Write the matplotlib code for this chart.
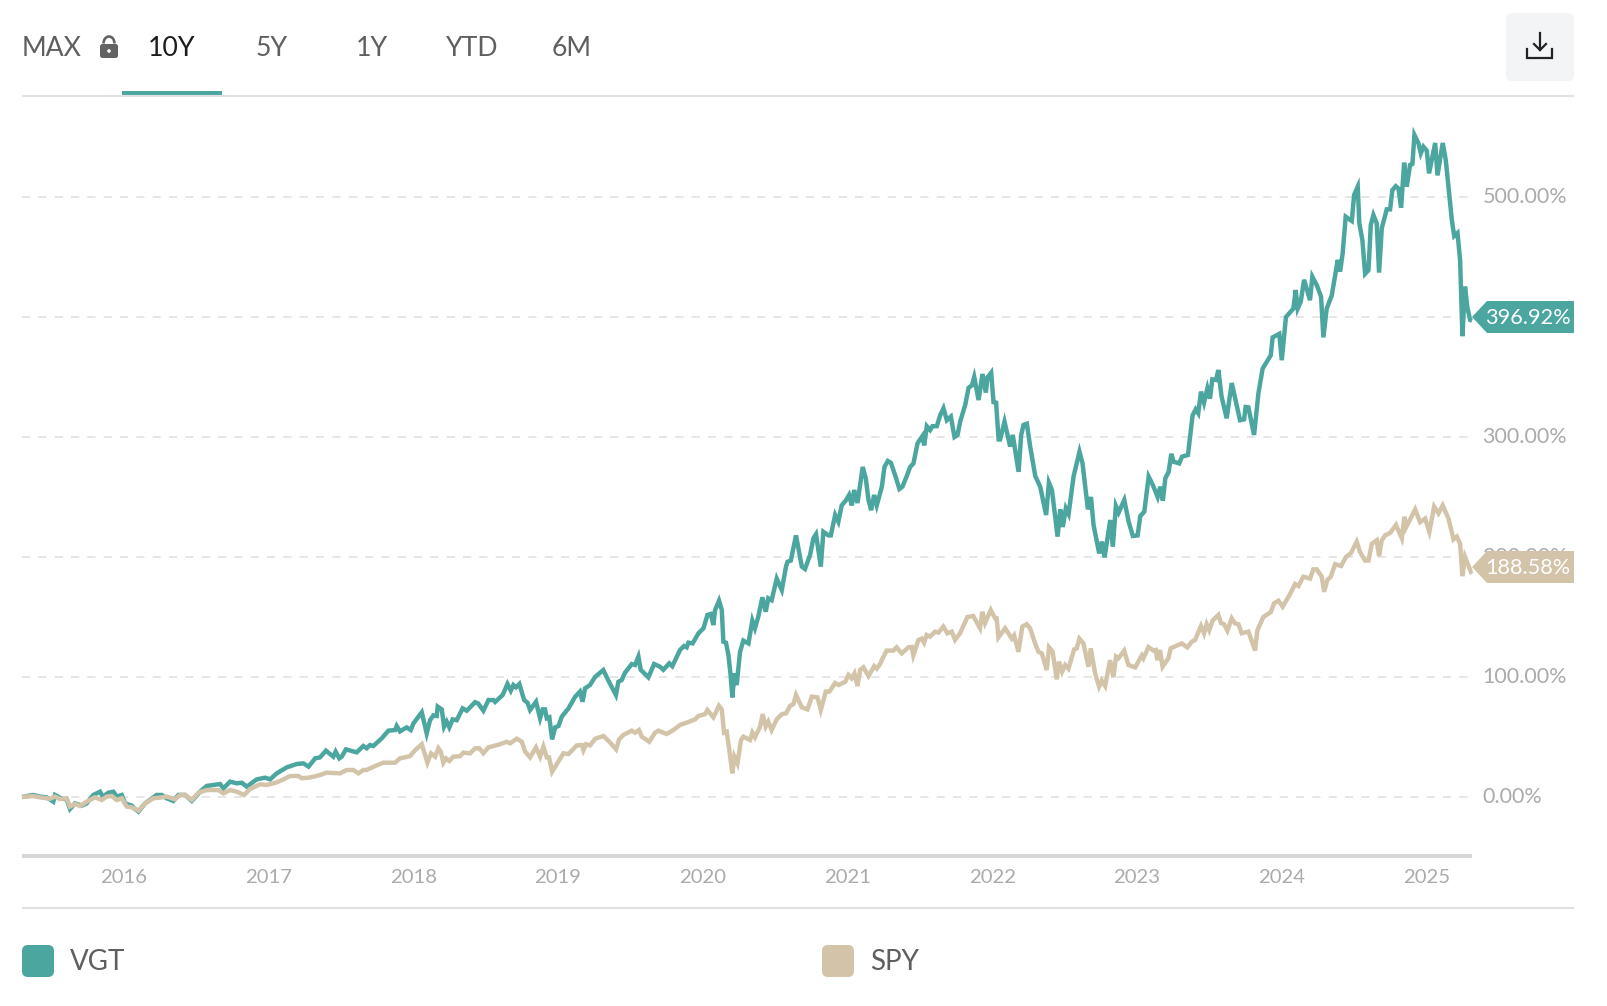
import matplotlib
matplotlib.use("Agg")
import matplotlib.pyplot as plt
from matplotlib.patches import FancyBboxPatch, Polygon, Rectangle, Arc, Circle
from matplotlib.transforms import ScaledTranslation

plt.rcParams['font.family'] = ['Lato', 'DejaVu Sans']

W, H = 1608, 1006
TEAL = '#4ca6a0'
TAN = '#d3c4a9'
GREY_TXT = '#5f5f5f'
AXIS_TXT = '#ababab'
RULE = '#e1e1e5'

tabs = ['MAX', '10Y', '5Y', '1Y', 'YTD', '6M']
series_names = ['VGT', 'SPY']
year_ticks = [2016, 2017, 2018, 2019, 2020, 2021, 2022, 2023, 2024, 2025]
pct_ticks = [0, 100, 200, 300, 400, 500]
vgt_last = 396.92
spy_last = 188.58

vgt_years = [
 2015.300,2015.378,2015.424,2015.470,2015.516,2015.528,2015.574,2015.608,2015.631,2015.666,2015.712,2015.746,
 2015.792,2015.838,2015.857,2015.896,2015.930,2015.953,2015.988,2016.011,2016.057,2016.073,2016.103,2016.149,
 2016.229,2016.264,2016.298,2016.344,2016.379,2016.425,2016.471,2016.528,2016.574,2016.666,2016.689,2016.735,
 2016.781,2016.816,2016.850,2016.919,2016.977,2017.011,2017.057,2017.126,2017.195,2017.241,2017.276,2017.322,
 2017.355,2017.396,2017.447,2017.463,2017.488,2017.505,2017.534,2017.608,2017.654,2017.677,2017.700,2017.723,
 2017.781,2017.827,2017.873,2017.884,2017.907,2017.953,2017.981,2018.000,2018.057,2018.091,2018.114,2018.137,
 2018.160,2018.167,2018.195,2018.211,2018.229,2018.247,2018.270,2018.298,2018.339,2018.367,2018.425,2018.447,
 2018.482,2018.517,2018.551,2018.563,2018.615,2018.648,2018.671,2018.689,2018.707,2018.730,2018.763,2018.786,
 2018.804,2018.845,2018.873,2018.891,2018.907,2018.919,2018.937,2018.956,2018.977,2019.000,2019.023,2019.069,
 2019.115,2019.148,2019.166,2019.183,2019.217,2019.252,2019.309,2019.344,2019.396,2019.413,2019.436,2019.459,
 2019.505,2019.528,2019.551,2019.567,2019.620,2019.659,2019.700,2019.723,2019.764,2019.785,2019.838,2019.866,
 2019.884,2019.896,2019.925,2019.965,2020.000,2020.027,2020.050,2020.068,2020.080,2020.107,2020.126,2020.137,
 2020.155,2020.172,2020.188,2020.199,2020.213,2020.229,2020.252,2020.275,2020.310,2020.337,2020.355,2020.378,
 2020.406,2020.429,2020.447,2020.470,2020.505,2020.540,2020.569,2020.579,2020.602,2020.638,2020.678,2020.700,
 2020.735,2020.758,2020.776,2020.809,2020.827,2020.862,2020.878,2020.908,2020.930,2020.953,2020.981,2021.004,
 2021.023,2021.039,2021.062,2021.098,2021.119,2021.138,2021.156,2021.177,2021.195,2021.230,2021.248,2021.271,
 2021.292,2021.322,2021.351,2021.372,2021.402,2021.425,2021.448,2021.476,2021.510,2021.522,2021.540,2021.563,
 2021.579,2021.609,2021.632,2021.655,2021.678,2021.706,2021.731,2021.752,2021.770,2021.805,2021.828,2021.851,
 2021.867,2021.897,2021.924,2021.947,2021.959,2021.984,2022.000,2022.018,2022.035,2022.046,2022.076,2022.115,
 2022.133,2022.173,2022.191,2022.207,2022.230,2022.253,2022.288,2022.322,2022.363,2022.382,2022.403,2022.442,
 2022.460,2022.478,2022.499,2022.518,2022.552,2022.593,2022.614,2022.651,2022.672,2022.690,2022.729,2022.748,
 2022.766,2022.805,2022.823,2022.844,2022.863,2022.902,2022.932,2022.961,2022.994,2023.012,2023.040,2023.070,
 2023.099,2023.132,2023.150,2023.168,2023.185,2023.208,2023.226,2023.242,2023.281,2023.300,2023.341,2023.373,
 2023.394,2023.412,2023.431,2023.452,2023.475,2023.493,2023.509,2023.534,2023.551,2023.573,2023.608,2023.643,
 2023.700,2023.728,2023.739,2023.758,2023.797,2023.827,2023.856,2023.912,2023.925,2023.971,2023.988,2024.017,
 2024.068,2024.084,2024.098,2024.119,2024.142,2024.183,2024.199,2024.229,2024.259,2024.275,2024.298,2024.333,
 2024.374,2024.390,2024.408,2024.429,2024.471,2024.487,2024.512,2024.523,2024.544,2024.563,2024.586,2024.602,
 2024.620,2024.643,2024.659,2024.678,2024.712,2024.735,2024.751,2024.774,2024.793,2024.811,2024.832,2024.850,
 2024.873,2024.889,2024.903,2024.931,2024.947,2024.965,2024.988,2025.004,2025.046,2025.062,2025.098,2025.119,
 2025.161,2025.177,2025.200,2025.218,2025.234,2025.252,2025.268,2025.287,2025.300]
vgt_pct = [
 0,1.7,0.3,-0.3,-3.9,1.7,-1.4,-1.9,-10,-5.3,-7.2,-5.3,
 1.7,4.4,0.3,3.6,4.4,0.3,1.7,-5.3,-7.2,-9.4,-12.2,-5.3,
 1.7,1.7,-1.1,-3.3,1.7,1.7,-3.3,4.4,9.2,10.8,7.2,12.8,
 11.4,11.9,8.6,14.7,16.1,14.7,19.7,24.7,27.5,28,25.3,32.2,
 33,38.6,33.6,37.8,32.2,33.6,39.7,37.2,42.5,40.6,43.3,42.5,
 48.9,55.3,55.8,59.2,54.7,58,55.8,61.4,70.6,53,64,68,
 67.5,75.3,73,58.6,62.8,58,64.7,64,73.9,71.9,79,77.8,
 71.9,80.8,80.8,79.2,85,94.2,88.6,93.3,91.4,94.2,80.8,78.6,
 72.5,79.4,65.6,73,73,65.6,66.4,48,58,59.2,67,73.9,
 83.6,87.8,79.4,90.5,93.3,100,105.8,97,85,96,97.5,103.6,
 110.8,110,117,106,99.7,110.8,108.6,106,111.4,109,122.5,125.8,
 124.7,128.6,128,136.4,140.6,151.7,152.5,143.3,155.8,163.6,155.8,129.4,
 128.6,118.3,100.3,83,103,93.3,121,130.3,128,147,140.6,150.3,
 166.4,154.4,165.6,164,182,172.5,192,196,197,218,192,190,
 201.7,215.6,219,192,221,218,218,235,229.4,243,247,251.7,
 243,255.8,245,275,265.6,247.5,239,251.7,243,258.6,275,280,
 278.6,268,256.7,258.6,267.5,275,278,294.7,300.8,293,309,305.8,
 309,309,318,323.9,314,317,300,301.7,312.8,326.7,341,343,
 350,330.8,352.5,337,349.7,353.6,329,328.6,298,298,312.8,292,
 301.7,271,301.7,310,311,292,267.5,258.6,235,262,255.8,217,
 239.7,225,240.6,235.8,267,287.8,278,239.7,250,226.7,203,212.8,
 199.7,230.8,208.6,242.5,237,247.5,229.4,217.5,218,234,237.8,267,
 260,250,258.6,247,265.6,271,286,279.4,278,283.6,285,318,
 323,319.7,337.8,328.6,340.6,332,348,347.5,355.8,333.6,315.6,345,
 314,314.7,325,324.7,301.7,336.4,357,368,383,386,364,400,
 407,422.5,407,412.8,431,414,433.6,426.7,417,383,407,418,
 447.5,437.8,453,483.6,480,501.7,508.6,478,464,436,439,476.7,
 485,478,437,474,489.7,489.7,505.8,509,507,491,528.6,508.6,
 526.7,527.5,551.7,544.7,536.4,541.9,538.6,519.7,545,518,545,530.8,
 480.8,467.5,470,447.5,384,425.3,408,397.5,vgt_last]

spy_years = [
 2015.300,2015.378,2015.424,2015.493,2015.528,2015.562,2015.608,2015.631,2015.666,2015.700,2015.746,2015.804,
 2015.850,2015.884,2015.919,2015.953,2015.988,2016.022,2016.057,2016.103,2016.149,2016.206,2016.264,2016.298,
 2016.356,2016.390,2016.425,2016.471,2016.517,2016.574,2016.655,2016.689,2016.735,2016.781,2016.832,2016.873,
 2016.942,2016.988,2017.057,2017.103,2017.149,2017.207,2017.230,2017.276,2017.310,
 2017.355,2017.401,2017.493,2017.539,2017.585,2017.620,2017.654,2017.677,2017.735,2017.792,2017.873,2017.907,
 2017.976,2018.011,2018.057,2018.096,2018.121,2018.149,2018.172,2018.188,2018.206,2018.224,2018.247,2018.275,
 2018.321,2018.344,2018.390,2018.425,2018.454,2018.482,2018.517,2018.586,2018.643,2018.666,2018.712,2018.747,
 2018.770,2018.804,2018.845,2018.873,2018.896,2018.919,2018.935,2018.956,2019.034,2019.069,2019.126,2019.161,
 2019.172,2019.190,2019.218,2019.253,2019.310,2019.351,2019.397,2019.418,
 2019.447,2019.505,2019.528,2019.555,2019.574,2019.626,2019.666,2019.689,2019.746,2019.792,2019.838,2019.884,
 2019.942,2019.965,2020.010,2020.027,2020.068,2020.107,2020.126,2020.142,2020.160,2020.178,2020.199,2020.213,
 2020.234,2020.259,2020.275,2020.321,2020.337,2020.355,2020.390,2020.408,2020.429,2020.447,2020.470,2020.505,
 2020.540,2020.569,2020.597,2020.620,2020.638,2020.678,2020.717,2020.747,2020.786,2020.809,2020.843,2020.868,
 2020.908,2020.931,2020.977,2021.000,2021.022,2021.041,2021.062,2021.080,2021.103,2021.138,2021.177,2021.195,2021.218,
 2021.229,2021.263,2021.309,2021.332,2021.367,2021.413,2021.436,2021.447,2021.482,2021.505,2021.521,2021.539,
 2021.562,2021.597,2021.620,2021.654,2021.682,2021.712,2021.735,2021.769,2021.820,2021.861,2021.907,2021.923,
 2021.942,2021.981,2022.011,2022.022,2022.034,2022.080,2022.126,2022.142,2022.172,2022.199,2022.229,2022.252,
 2022.287,2022.310,2022.333,2022.367,2022.383,2022.408,2022.436,2022.452,2022.473,2022.494,2022.517,2022.556,
 2022.574,2022.592,2022.620,2022.655,2022.671,2022.701,2022.728,2022.747,2022.770,2022.804,2022.827,2022.845,
 2022.862,2022.901,2022.931,2022.977,2023.023,2023.034,2023.069,2023.103,2023.119,2023.130,
 2023.148,2023.166,2023.206,2023.222,2023.298,2023.337,2023.367,2023.390,2023.431,2023.452,2023.470,2023.488,
 2023.511,2023.551,2023.569,2023.590,2023.613,2023.643,2023.666,2023.689,2023.712,2023.758,2023.804,2023.820,
 2023.861,2023.912,2023.935,2023.965,2023.994,2024.045,2024.080,2024.103,2024.137,2024.183,2024.206,2024.229,
 2024.264,2024.280,2024.303,2024.326,2024.356,2024.397,2024.431,2024.464,2024.505,2024.528,2024.563,2024.586,
 2024.609,2024.643,2024.659,2024.678,2024.701,2024.735,2024.776,2024.816,2024.834,2024.845,2024.908,2024.942,
 2024.977,2025.006,2025.039,2025.069,2025.098,2025.138,2025.172,2025.195,2025.218,2025.234,2025.252,2025.292,2025.300]
spy_pct = [
 0,0.8,-0.3,-1.4,0.3,-1.7,-1.1,-8,-5.8,-7.5,-3.9,-0.3,
 -2.5,0.3,0.8,-2.5,-1.1,-8,-8.6,-11.4,-5.3,-1.1,-0.3,0.3,
 -1.9,1.7,1.7,-2.5,3.6,5.8,5.8,3,5.8,4.4,1.7,6.7,
 10.6,10,12.2,14.7,17.5,17.5,15.6,16.1,16.9,
 18.3,20.3,19.7,22.5,22.5,19.7,22.5,22.5,25.8,28.6,28.6,32.2,
 34,39,44,28.6,36.4,33.6,40.6,37.8,28.6,32.2,30,33.6,
 34,37,36.4,40.6,40.6,36.4,41.4,43.6,46,44.7,48.6,46,
 37.8,33,41.4,33.6,42,33,33,21,36.4,35.8,43,43.3,
 39,44,43,48.6,50.8,46,39.7,48,
 51.7,55.3,53.6,55.8,50.3,46,53.6,55.3,52.5,55.8,60,62,
 64.7,67.5,69,72.5,66.4,76,73,53.6,54.4,39,19.7,33.6,
 28,47.5,50.3,47.5,53.6,49.7,58.6,69,58.6,62.8,55.8,64.7,
 69,69.7,76,77.5,85,74.7,73,83.6,83,72.5,87.8,87.8,
 95,93.3,96,101.7,98.9,103,92.5,105.8,108,100.8,109,107,110.8,
 114,122,122,124.7,119.7,124.7,125,118,130.8,132,128.6,135,
 133.6,137.8,137,142,136.4,137.8,131,136.4,150,150.8,140.6,154.4,
 145,155.8,148.9,148.9,133,140.6,132,134.7,121,142,144,140.6,
 128,121,119.7,105.8,124.7,121,98,112.8,104.4,110,107,123,
 123.9,132,128,108.6,123.9,103,92,97,92.5,114,99.7,117,
 115.6,122,110,108,118,115.6,125,122,122.5,114,
 122.5,108.6,115.6,123.9,128,124.7,129.4,130.8,142.5,136.4,144,139,
 147,151.7,145,144,138.6,148.9,144.7,144,136.4,137.8,122,139,
 150,154,161.4,163.6,158.6,169,177.5,175.8,183.6,182,189.7,189.7,
 183.6,171,181,183.6,194,192.5,200,203,212.8,204,197,197,
 211,214,200.8,214,218,220,226.7,215.6,233.6,224.7,239.7,229,
 232,221,242,236.4,243,232,214.7,217,211,184,200,187.8,spy_last]

fig = plt.figure(figsize=(W / 100, H / 100), dpi=100, facecolor='white')

# Chart axes: x from 22 to 1472 px, y from 856 (bottom) to 97 px (top)
ax = fig.add_axes([22 / W, 1 - 856 / H, 1450 / W, 759 / H])
ax.set_xlim(2015.30, 2025.30)
ax.set_ylim(-49.17, 583.33)
for s in ['top', 'left', 'right']:
    ax.spines[s].set_visible(False)
ax.spines['bottom'].set_color('#d6d6d6')
ax.spines['bottom'].set_linewidth(2.9)
ax.spines['bottom'].set_capstyle('butt')
ax.set_xticks([y - 0.0015 * (y - 2016) for y in year_ticks])
ax.set_xticklabels([str(y) for y in year_ticks])
ax.yaxis.tick_right()
ax.set_yticks(pct_ticks)
ax.set_yticklabels([f'{v:.2f}%' for v in pct_ticks])
ax.tick_params(axis='x', length=0, pad=9.5, labelsize=14.6, labelcolor=AXIS_TXT)
ax.tick_params(axis='y', length=0, pad=7.6, labelsize=15.5, labelcolor=AXIS_TXT)
for lab in ax.get_yticklabels():
    lab.set_transform(lab.get_transform() + ScaledTranslation(0, 2.2 / 100, fig.dpi_scale_trans))
ax.grid(axis='y', color='#e6e6e6', linewidth=1.4, dashes=(4.2, 4.2))
ax.set_axisbelow(True)
ax.plot(vgt_years, vgt_pct, color=TEAL, linewidth=3.2, solid_joinstyle='miter',
        solid_capstyle='butt', zorder=3, clip_on=False)
ax.plot(spy_years, spy_pct, color=TAN, linewidth=3.2, solid_joinstyle='miter',
        solid_capstyle='butt', zorder=4, clip_on=False)

# Overlay axes in pixel units for the page furniture
ui = fig.add_axes([0, 0, 1, 1], facecolor='none')
ui.set_xlim(0, W)
ui.set_ylim(H, 0)
ui.axis('off')

for name, cx in zip(tabs, [None, 172, 272, 372, 472, 572]):
    if name == 'MAX':
        ui.text(22, 48, name, ha='left', va='center', fontsize=19.2, color=GREY_TXT)
    else:
        ui.text(cx, 48, name, ha='center', va='center', fontsize=19.2,
                color='#1c1c1c' if name == '10Y' else GREY_TXT)

# padlock
ui.add_patch(FancyBboxPatch((100, 44), 18, 14, boxstyle='round,pad=0,rounding_size=2.5', fc='#636363', ec='none'))
ui.add_patch(Arc((109, 43.5), 11, 14, theta1=180, theta2=360, ec='#636363', lw=1.9))
ui.add_patch(Circle((109, 51), 1.8, fc='white', ec='none'))

ui.plot([22, 1574], [95.5, 95.5], color=RULE, lw=1.5, solid_capstyle='butt')
ui.add_patch(Rectangle((122, 90.5), 100, 4.5, fc=TEAL, ec='none'))
ui.plot([22, 1574], [907.5, 907.5], color=RULE, lw=1.5, solid_capstyle='butt')

# download button
ui.add_patch(FancyBboxPatch((1506, 13), 68, 68, boxstyle='round,pad=0,rounding_size=6', fc='#f3f4f6', ec='none'))
ui.plot([1527.5, 1527.5, 1552.5, 1552.5], [49, 58, 58, 49], color='#222222', lw=1.6, solid_joinstyle='miter')
ui.plot([1540, 1540], [33, 50], color='#222222', lw=1.6)
ui.plot([1534, 1540, 1546], [44, 50, 44], color='#222222', lw=1.6, solid_joinstyle='miter')

# last-value tags, positioned from the values through the chart's y scale
def tag(value, color):
    y = ax.transData.transform((2025.3, value))[1]
    y = H - y - 3.7
    ui.add_patch(Polygon([(1472, y), (1487, y - 16), (1574, y - 16), (1574, y + 16), (1487, y + 16)],
                         closed=True, fc=color, ec='none'))
    ui.text(1527.5, y + 1, f'{value:.2f}%', ha='center', va='center', fontsize=15.6, color='white')

tag(spy_last, TAN)
tag(vgt_last, TEAL)

# legend
for name, color, x0, tx in zip(series_names, [TEAL, TAN], [22, 822], [70, 870]):
    ui.add_patch(FancyBboxPatch((x0, 945), 32, 32, boxstyle='round,pad=0,rounding_size=6', fc=color, ec='none'))
    ui.text(tx, 962.5, name, ha='left', va='center', fontsize=20, color=GREY_TXT)

fig.savefig('out.png', dpi=100, facecolor='white')
